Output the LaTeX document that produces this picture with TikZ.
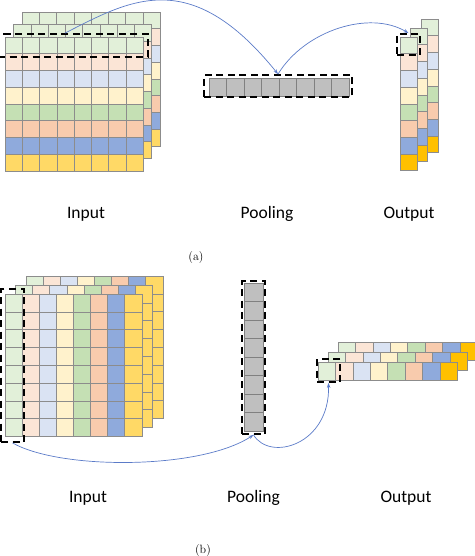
\documentclass[tikz,border=0pt]{standalone}
\usepackage{fontspec}
\usetikzlibrary{arrows.meta}

\newfontfamily\labelfont{Carlito}

\definecolor{cgreenl}{HTML}{E2F0D9}
\definecolor{cpeach}{HTML}{FBE5D6}
\definecolor{cbluel}{HTML}{DAE3F3}
\definecolor{cyell}{HTML}{FFF2CC}
\definecolor{cgreen}{HTML}{C5E0B4}
\definecolor{csalmon}{HTML}{F8CBAD}
\definecolor{cblue}{HTML}{8FAADC}
\definecolor{cgold}{HTML}{FFD966}
\definecolor{corange}{HTML}{FFC000}
\definecolor{cgray}{HTML}{BFBFBF}
\definecolor{cflow}{HTML}{5B7BC8}

\begin{document}
\begin{tikzpicture}[x=1pt, y=-1pt,
    cell/.style={draw=black!45, line width=0.5pt},
    poolcell/.style={draw=black!50, fill=cgray, line width=0.5pt},
    window/.style={draw=black, line width=1.8pt, dash pattern=on 7pt off 4.5pt, inner sep=0pt},
    flow/.style={draw=cflow, line width=0.7pt, -{Stealth[length=5pt,width=3.5pt]}},
    caption/.style={font=\labelfont\fontsize{17.5}{20}\selectfont, anchor=base, inner sep=0pt},
    tag/.style={font=\fontsize{12}{14}\selectfont, anchor=base, inner sep=0pt}]

\useasboundingbox (0,0) rectangle (474,556);

% draw input feature maps (a), one colour per row
\foreach \k in {2,1,0}
    \foreach \col [count=\r from 0] in {cgreenl,cpeach,cbluel,cyell,cgreen,csalmon,cblue,cgold}
        \foreach \c in {0,...,7}
        {
            \filldraw[cell, fill=\col] ({5+8.5*\k+17.25*\c}, {37-12.5*\k+16.75*\r}) rectangle ++(17.25, 16.75);
        }

% draw pooled row (a)
\foreach \c in {0,...,7}
{
    \filldraw[poolcell] ({209+17.5*\c}, 78) rectangle ++(17.5, 18);
}

% draw output columns (a)
\foreach \k in {2,1,0}
    \foreach \col [count=\r from 0] in {cgreenl,cpeach,cbluel,cyell,cgreen,csalmon,cblue,corange}
    {
        \filldraw[cell, fill=\col] ({400+10.5*\k}, {37-9*\k+16.7*\r}) rectangle ++(17, 16.7);
    }

% dashed windows (a)
\node[window, minimum width=150pt, minimum height=23pt] (rowA) at (73, 45.5) {};
\node[window, minimum width=148pt, minimum height=22pt] (poolA) at (278, 86) {};
\node[window, minimum width=23pt, minimum height=21pt] (outA) at (408.5, 44.5) {};

% arrows (a)
\draw[flow] ([xshift=-8pt]rowA.north) .. controls (130, 0) and (190, -35) .. (poolA.north);
\draw[flow] (poolA.north) .. controls (305, 30) and (370, 10) .. (outA.north);

% labels (a)
\node[caption] (inlabA) at (86, 218) {Input};
\node[caption] (poollabA) at (267, 218) {Pooling};
\node[caption] (outlabA) at (409, 218) {Output};
\node[tag] (tagA) at (196, 260) {(a)};

% draw input feature maps (b), one colour per column
\foreach \k in {2,1,0}
    \foreach \col [count=\c from 0] in {cgreenl,cpeach,cbluel,cyell,cgreen,csalmon,cblue,cgold}
        \foreach \r in {0,...,7}
        {
            \filldraw[cell, fill=\col] ({5+10.5*\k+17.1*\c}, {294-9*\k+17.8*\r}) rectangle ++(17.1, 17.8);
        }

% draw pooled column (b)
\foreach \r in {0,...,7}
{
    \filldraw[poolcell] (244, {283+18.5*\r}) rectangle ++(19, 18.5);
}

% draw output rows (b)
\foreach \k in {2,1,0}
    \foreach \col [count=\c from 0] in {cgreenl,cpeach,cbluel,cyell,cgreen,csalmon,cblue,corange}
    {
        \filldraw[cell, fill=\col] ({318+10*\k+17.4*\c}, {362-10*\k}) rectangle ++(17.4, 18.5);
    }

% dashed windows (b)
\node[window, minimum width=23pt, minimum height=153pt] (colB) at (12.5, 365.5) {};
\node[window, minimum width=23pt, minimum height=153pt] (poolB) at (253.5, 357.5) {};
\node[window, minimum width=23pt, minimum height=23pt] (outB) at (328.5, 370.5) {};

% arrows (b)
\draw[flow] (colB.south) .. controls (60, 470) and (200, 470) .. (poolB.south);
\draw[flow] (poolB.south) .. controls (270, 462) and (330, 445) .. (outB.south);

% labels (b)
\node[caption] (inlabB) at (88, 502) {Input};
\node[caption] (poollabB) at (253.5, 502) {Pooling};
\node[caption] (outlabB) at (406, 502) {Output};
\node[tag] (tagB) at (203, 553) {(b)};

\end{tikzpicture}
\end{document}
